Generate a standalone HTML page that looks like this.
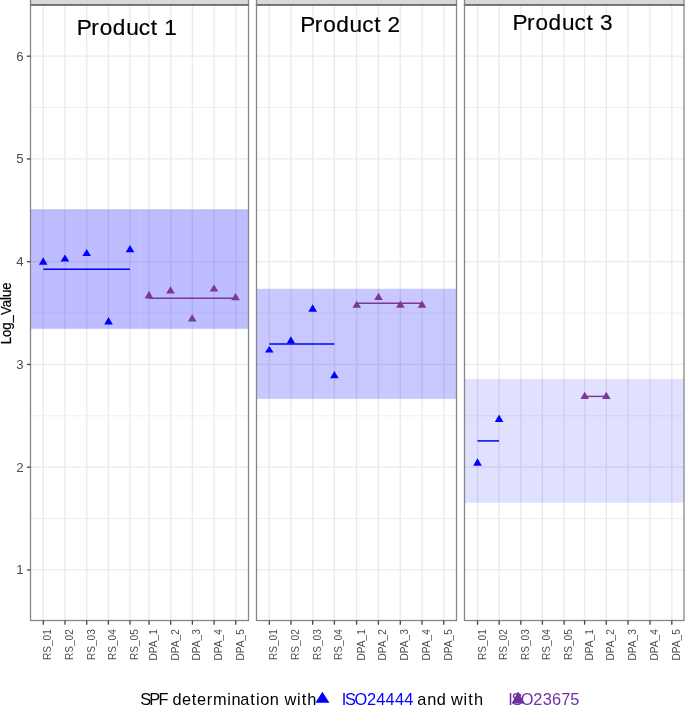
<!DOCTYPE html>
<html lang="en"><head><meta charset="utf-8"><title>SPF determination</title>
<style>html,body{margin:0;padding:0;background:#fff;overflow:hidden}svg{display:block}</style></head>
<body>
<svg width="685" height="705" viewBox="0 0 685 705" font-family="'Liberation Sans', Arial, sans-serif">
<rect width="685" height="705" fill="#fff"/>
<rect x="30.5" y="-2" width="218.0" height="6.9" fill="#d9d9d9"/>
<line x1="30.5" x2="248.5" y1="107.58" y2="107.58" stroke="#ebebeb" stroke-width="0.8"/>
<line x1="30.5" x2="248.5" y1="210.32" y2="210.32" stroke="#ebebeb" stroke-width="0.8"/>
<line x1="30.5" x2="248.5" y1="313.07" y2="313.07" stroke="#ebebeb" stroke-width="0.8"/>
<line x1="30.5" x2="248.5" y1="415.82" y2="415.82" stroke="#ebebeb" stroke-width="0.8"/>
<line x1="30.5" x2="248.5" y1="518.58" y2="518.58" stroke="#ebebeb" stroke-width="0.8"/>
<line x1="30.5" x2="248.5" y1="56.20" y2="56.20" stroke="#ebebeb" stroke-width="1.3"/>
<line x1="30.5" x2="248.5" y1="158.95" y2="158.95" stroke="#ebebeb" stroke-width="1.3"/>
<line x1="30.5" x2="248.5" y1="261.70" y2="261.70" stroke="#ebebeb" stroke-width="1.3"/>
<line x1="30.5" x2="248.5" y1="364.45" y2="364.45" stroke="#ebebeb" stroke-width="1.3"/>
<line x1="30.5" x2="248.5" y1="467.20" y2="467.20" stroke="#ebebeb" stroke-width="1.3"/>
<line x1="30.5" x2="248.5" y1="569.95" y2="569.95" stroke="#ebebeb" stroke-width="1.3"/>
<line x1="43.3" x2="43.3" y1="4.9" y2="620.5" stroke="#ebebeb" stroke-width="1.4"/>
<line x1="65.0" x2="65.0" y1="4.9" y2="620.5" stroke="#ebebeb" stroke-width="1.4"/>
<line x1="86.7" x2="86.7" y1="4.9" y2="620.5" stroke="#ebebeb" stroke-width="1.4"/>
<line x1="108.4" x2="108.4" y1="4.9" y2="620.5" stroke="#ebebeb" stroke-width="1.4"/>
<line x1="130.0" x2="130.0" y1="4.9" y2="620.5" stroke="#ebebeb" stroke-width="1.4"/>
<line x1="149.0" x2="149.0" y1="4.9" y2="620.5" stroke="#ebebeb" stroke-width="1.4"/>
<line x1="170.7" x2="170.7" y1="4.9" y2="620.5" stroke="#ebebeb" stroke-width="1.4"/>
<line x1="192.4" x2="192.4" y1="4.9" y2="620.5" stroke="#ebebeb" stroke-width="1.4"/>
<line x1="214.1" x2="214.1" y1="4.9" y2="620.5" stroke="#ebebeb" stroke-width="1.4"/>
<line x1="235.8" x2="235.8" y1="4.9" y2="620.5" stroke="#ebebeb" stroke-width="1.4"/>
<rect x="30.5" y="209.4" width="218.0" height="119.40" fill="#0000ff" fill-opacity="0.26"/>
<line x1="139.7" x2="139.7" y1="209.4" y2="328.8" stroke="#fff" stroke-opacity="0.12" stroke-width="1"/>
<line x1="43.3" x2="130.0" y1="269.3" y2="269.3" stroke="#0000ff" stroke-width="1.5"/>
<line x1="149.0" x2="235.6" y1="298.3" y2="298.3" stroke="#7c3897" stroke-width="1.4"/>
<polygon points="43.2,257.3 47.5,264.8 38.900000000000006,264.8" fill="#0000ff"/>
<polygon points="64.9,254.5 69.2,261.6 60.60000000000001,261.6" fill="#0000ff"/>
<polygon points="86.7,248.9 91.0,256.1 82.4,256.1" fill="#0000ff"/>
<polygon points="108.5,317.0 112.8,324.4 104.2,324.4" fill="#0000ff"/>
<polygon points="130.0,245.1 134.3,252.3 125.7,252.3" fill="#0000ff"/>
<polygon points="149.0,290.7 153.3,298.5 144.7,298.5" fill="#7c3897"/>
<polygon points="170.5,286.3 174.8,293.5 166.2,293.5" fill="#7c3897"/>
<polygon points="192.2,314.2 196.5,321.6 187.89999999999998,321.6" fill="#7c3897"/>
<polygon points="214.0,284.6 218.3,291.6 209.7,291.6" fill="#7c3897"/>
<polygon points="235.6,292.90000000000003 239.9,300.2 231.29999999999998,300.2" fill="#7c3897"/>
<rect x="30.5" y="4.9" width="218.0" height="615.6" fill="none" stroke="#878787" stroke-width="1.3"/>
<line x1="29.9" x2="249.1" y1="4.9" y2="4.9" stroke="#6c6c6c" stroke-width="1.9"/>
<line x1="30.5" x2="30.5" y1="-1" y2="4.9" stroke="#878787" stroke-width="1.3"/>
<line x1="248.5" x2="248.5" y1="-1" y2="4.9" stroke="#878787" stroke-width="1.3"/>
<line x1="43.3" x2="43.3" y1="620.5" y2="624.7" stroke="#444" stroke-width="1.3"/>
<text transform="translate(51.3,629.2) scale(1.12,1) rotate(-90)" text-anchor="end" font-size="10.1" fill="#4d4d4d">RS_01</text>
<line x1="65.0" x2="65.0" y1="620.5" y2="624.7" stroke="#444" stroke-width="1.3"/>
<text transform="translate(73.0,629.2) scale(1.12,1) rotate(-90)" text-anchor="end" font-size="10.1" fill="#4d4d4d">RS_02</text>
<line x1="86.7" x2="86.7" y1="620.5" y2="624.7" stroke="#444" stroke-width="1.3"/>
<text transform="translate(94.7,629.2) scale(1.12,1) rotate(-90)" text-anchor="end" font-size="10.1" fill="#4d4d4d">RS_03</text>
<line x1="108.4" x2="108.4" y1="620.5" y2="624.7" stroke="#444" stroke-width="1.3"/>
<text transform="translate(116.4,629.2) scale(1.12,1) rotate(-90)" text-anchor="end" font-size="10.1" fill="#4d4d4d">RS_04</text>
<line x1="130.0" x2="130.0" y1="620.5" y2="624.7" stroke="#444" stroke-width="1.3"/>
<text transform="translate(138.0,629.2) scale(1.12,1) rotate(-90)" text-anchor="end" font-size="10.1" fill="#4d4d4d">RS_05</text>
<line x1="149.0" x2="149.0" y1="620.5" y2="624.7" stroke="#444" stroke-width="1.3"/>
<text transform="translate(157.0,629.2) scale(1.12,1) rotate(-90)" text-anchor="end" font-size="10.1" fill="#4d4d4d">DPA_1</text>
<line x1="170.7" x2="170.7" y1="620.5" y2="624.7" stroke="#444" stroke-width="1.3"/>
<text transform="translate(178.7,629.2) scale(1.12,1) rotate(-90)" text-anchor="end" font-size="10.1" fill="#4d4d4d">DPA_2</text>
<line x1="192.4" x2="192.4" y1="620.5" y2="624.7" stroke="#444" stroke-width="1.3"/>
<text transform="translate(200.4,629.2) scale(1.12,1) rotate(-90)" text-anchor="end" font-size="10.1" fill="#4d4d4d">DPA_3</text>
<line x1="214.1" x2="214.1" y1="620.5" y2="624.7" stroke="#444" stroke-width="1.3"/>
<text transform="translate(222.1,629.2) scale(1.12,1) rotate(-90)" text-anchor="end" font-size="10.1" fill="#4d4d4d">DPA_4</text>
<line x1="235.8" x2="235.8" y1="620.5" y2="624.7" stroke="#444" stroke-width="1.3"/>
<text transform="translate(243.8,629.2) scale(1.12,1) rotate(-90)" text-anchor="end" font-size="10.1" fill="#4d4d4d">DPA_5</text>
<text transform="scale(1.05,1)" x="73.10 86.90 95.01 107.48 120.18 132.23 143.62 150.45 156.46" y="34.8" font-size="21.5" stroke="#000" stroke-width="0.2" fill="#000">Product 1</text>
<rect x="256.5" y="-2" width="200.0" height="6.9" fill="#d9d9d9"/>
<line x1="256.5" x2="456.5" y1="107.58" y2="107.58" stroke="#ebebeb" stroke-width="0.8"/>
<line x1="256.5" x2="456.5" y1="210.32" y2="210.32" stroke="#ebebeb" stroke-width="0.8"/>
<line x1="256.5" x2="456.5" y1="313.07" y2="313.07" stroke="#ebebeb" stroke-width="0.8"/>
<line x1="256.5" x2="456.5" y1="415.82" y2="415.82" stroke="#ebebeb" stroke-width="0.8"/>
<line x1="256.5" x2="456.5" y1="518.58" y2="518.58" stroke="#ebebeb" stroke-width="0.8"/>
<line x1="256.5" x2="456.5" y1="56.20" y2="56.20" stroke="#ebebeb" stroke-width="1.3"/>
<line x1="256.5" x2="456.5" y1="158.95" y2="158.95" stroke="#ebebeb" stroke-width="1.3"/>
<line x1="256.5" x2="456.5" y1="261.70" y2="261.70" stroke="#ebebeb" stroke-width="1.3"/>
<line x1="256.5" x2="456.5" y1="364.45" y2="364.45" stroke="#ebebeb" stroke-width="1.3"/>
<line x1="256.5" x2="456.5" y1="467.20" y2="467.20" stroke="#ebebeb" stroke-width="1.3"/>
<line x1="256.5" x2="456.5" y1="569.95" y2="569.95" stroke="#ebebeb" stroke-width="1.3"/>
<line x1="269.3" x2="269.3" y1="4.9" y2="620.5" stroke="#ebebeb" stroke-width="1.4"/>
<line x1="291.0" x2="291.0" y1="4.9" y2="620.5" stroke="#ebebeb" stroke-width="1.4"/>
<line x1="312.7" x2="312.7" y1="4.9" y2="620.5" stroke="#ebebeb" stroke-width="1.4"/>
<line x1="334.4" x2="334.4" y1="4.9" y2="620.5" stroke="#ebebeb" stroke-width="1.4"/>
<line x1="356.6" x2="356.6" y1="4.9" y2="620.5" stroke="#ebebeb" stroke-width="1.4"/>
<line x1="378.4" x2="378.4" y1="4.9" y2="620.5" stroke="#ebebeb" stroke-width="1.4"/>
<line x1="400.3" x2="400.3" y1="4.9" y2="620.5" stroke="#ebebeb" stroke-width="1.4"/>
<line x1="422.0" x2="422.0" y1="4.9" y2="620.5" stroke="#ebebeb" stroke-width="1.4"/>
<line x1="443.8" x2="443.8" y1="4.9" y2="620.5" stroke="#ebebeb" stroke-width="1.4"/>
<rect x="256.5" y="288.8" width="200.0" height="110.10" fill="#0000ff" fill-opacity="0.215"/>
<line x1="269.3" x2="334.4" y1="344.1" y2="344.1" stroke="#0000ff" stroke-width="1.5"/>
<line x1="356.7" x2="422.0" y1="303.3" y2="303.3" stroke="#7c3897" stroke-width="1.4"/>
<polygon points="269.3,346.0 273.6,352.6 265.0,352.6" fill="#0000ff"/>
<polygon points="290.9,336.2 295.2,343.6 286.59999999999997,343.6" fill="#0000ff"/>
<polygon points="312.7,304.3 317.0,311.7 308.4,311.7" fill="#0000ff"/>
<polygon points="334.4,371.0 338.7,378.2 330.09999999999997,378.2" fill="#0000ff"/>
<polygon points="356.7,300.7 361.0,307.7 352.4,307.7" fill="#7c3897"/>
<polygon points="378.5,292.7 382.8,299.9 374.2,299.9" fill="#7c3897"/>
<polygon points="400.4,300.5 404.7,307.7 396.09999999999997,307.7" fill="#7c3897"/>
<polygon points="422.0,300.5 426.3,307.7 417.7,307.7" fill="#7c3897"/>
<rect x="256.5" y="4.9" width="200.0" height="615.6" fill="none" stroke="#878787" stroke-width="1.3"/>
<line x1="255.9" x2="457.1" y1="4.9" y2="4.9" stroke="#6c6c6c" stroke-width="1.9"/>
<line x1="256.5" x2="256.5" y1="-1" y2="4.9" stroke="#878787" stroke-width="1.3"/>
<line x1="456.5" x2="456.5" y1="-1" y2="4.9" stroke="#878787" stroke-width="1.3"/>
<line x1="269.3" x2="269.3" y1="620.5" y2="624.7" stroke="#444" stroke-width="1.3"/>
<text transform="translate(277.3,629.2) scale(1.12,1) rotate(-90)" text-anchor="end" font-size="10.1" fill="#4d4d4d">RS_01</text>
<line x1="291.0" x2="291.0" y1="620.5" y2="624.7" stroke="#444" stroke-width="1.3"/>
<text transform="translate(299.0,629.2) scale(1.12,1) rotate(-90)" text-anchor="end" font-size="10.1" fill="#4d4d4d">RS_02</text>
<line x1="312.7" x2="312.7" y1="620.5" y2="624.7" stroke="#444" stroke-width="1.3"/>
<text transform="translate(320.7,629.2) scale(1.12,1) rotate(-90)" text-anchor="end" font-size="10.1" fill="#4d4d4d">RS_03</text>
<line x1="334.4" x2="334.4" y1="620.5" y2="624.7" stroke="#444" stroke-width="1.3"/>
<text transform="translate(342.4,629.2) scale(1.12,1) rotate(-90)" text-anchor="end" font-size="10.1" fill="#4d4d4d">RS_04</text>
<line x1="356.6" x2="356.6" y1="620.5" y2="624.7" stroke="#444" stroke-width="1.3"/>
<text transform="translate(364.6,629.2) scale(1.12,1) rotate(-90)" text-anchor="end" font-size="10.1" fill="#4d4d4d">DPA_1</text>
<line x1="378.4" x2="378.4" y1="620.5" y2="624.7" stroke="#444" stroke-width="1.3"/>
<text transform="translate(386.4,629.2) scale(1.12,1) rotate(-90)" text-anchor="end" font-size="10.1" fill="#4d4d4d">DPA_2</text>
<line x1="400.3" x2="400.3" y1="620.5" y2="624.7" stroke="#444" stroke-width="1.3"/>
<text transform="translate(408.3,629.2) scale(1.12,1) rotate(-90)" text-anchor="end" font-size="10.1" fill="#4d4d4d">DPA_3</text>
<line x1="422.0" x2="422.0" y1="620.5" y2="624.7" stroke="#444" stroke-width="1.3"/>
<text transform="translate(430.0,629.2) scale(1.12,1) rotate(-90)" text-anchor="end" font-size="10.1" fill="#4d4d4d">DPA_4</text>
<line x1="443.8" x2="443.8" y1="620.5" y2="624.7" stroke="#444" stroke-width="1.3"/>
<text transform="translate(451.8,629.2) scale(1.12,1) rotate(-90)" text-anchor="end" font-size="10.1" fill="#4d4d4d">DPA_5</text>
<text transform="scale(1.05,1)" x="285.95 299.73 307.83 320.27 332.95 344.99 356.36 363.18 369.00" y="31.9" font-size="21.5" stroke="#000" stroke-width="0.2" fill="#000">Product 2</text>
<rect x="464.5" y="-2" width="219.5" height="6.9" fill="#d9d9d9"/>
<line x1="464.5" x2="684.0" y1="107.58" y2="107.58" stroke="#ebebeb" stroke-width="0.8"/>
<line x1="464.5" x2="684.0" y1="210.32" y2="210.32" stroke="#ebebeb" stroke-width="0.8"/>
<line x1="464.5" x2="684.0" y1="313.07" y2="313.07" stroke="#ebebeb" stroke-width="0.8"/>
<line x1="464.5" x2="684.0" y1="415.82" y2="415.82" stroke="#ebebeb" stroke-width="0.8"/>
<line x1="464.5" x2="684.0" y1="518.58" y2="518.58" stroke="#ebebeb" stroke-width="0.8"/>
<line x1="464.5" x2="684.0" y1="56.20" y2="56.20" stroke="#ebebeb" stroke-width="1.3"/>
<line x1="464.5" x2="684.0" y1="158.95" y2="158.95" stroke="#ebebeb" stroke-width="1.3"/>
<line x1="464.5" x2="684.0" y1="261.70" y2="261.70" stroke="#ebebeb" stroke-width="1.3"/>
<line x1="464.5" x2="684.0" y1="364.45" y2="364.45" stroke="#ebebeb" stroke-width="1.3"/>
<line x1="464.5" x2="684.0" y1="467.20" y2="467.20" stroke="#ebebeb" stroke-width="1.3"/>
<line x1="464.5" x2="684.0" y1="569.95" y2="569.95" stroke="#ebebeb" stroke-width="1.3"/>
<line x1="477.5" x2="477.5" y1="4.9" y2="620.5" stroke="#ebebeb" stroke-width="1.4"/>
<line x1="499.1" x2="499.1" y1="4.9" y2="620.5" stroke="#ebebeb" stroke-width="1.4"/>
<line x1="520.8" x2="520.8" y1="4.9" y2="620.5" stroke="#ebebeb" stroke-width="1.4"/>
<line x1="542.4" x2="542.4" y1="4.9" y2="620.5" stroke="#ebebeb" stroke-width="1.4"/>
<line x1="564.1" x2="564.1" y1="4.9" y2="620.5" stroke="#ebebeb" stroke-width="1.4"/>
<line x1="584.6" x2="584.6" y1="4.9" y2="620.5" stroke="#ebebeb" stroke-width="1.4"/>
<line x1="606.3" x2="606.3" y1="4.9" y2="620.5" stroke="#ebebeb" stroke-width="1.4"/>
<line x1="628.0" x2="628.0" y1="4.9" y2="620.5" stroke="#ebebeb" stroke-width="1.4"/>
<line x1="650.0" x2="650.0" y1="4.9" y2="620.5" stroke="#ebebeb" stroke-width="1.4"/>
<line x1="671.8" x2="671.8" y1="4.9" y2="620.5" stroke="#ebebeb" stroke-width="1.4"/>
<rect x="464.5" y="378.9" width="219.5" height="123.90" fill="#0000ff" fill-opacity="0.12"/>
<line x1="477.5" x2="499.1" y1="440.9" y2="440.9" stroke="#0000ff" stroke-width="1.5"/>
<line x1="584.7" x2="606.3" y1="396.4" y2="396.4" stroke="#7c3897" stroke-width="1.4"/>
<polygon points="477.5,458.2 481.8,465.8 473.2,465.8" fill="#0000ff"/>
<polygon points="499.1,414.5 503.40000000000003,422.1 494.8,422.1" fill="#0000ff"/>
<polygon points="584.7,391.7 589.0,399.1 580.4000000000001,399.1" fill="#7c3897"/>
<polygon points="606.3,391.7 610.5999999999999,399.1 602.0,399.1" fill="#7c3897"/>
<rect x="464.5" y="4.9" width="219.5" height="615.6" fill="none" stroke="#878787" stroke-width="1.3"/>
<line x1="463.9" x2="684.6" y1="4.9" y2="4.9" stroke="#6c6c6c" stroke-width="1.9"/>
<line x1="464.5" x2="464.5" y1="-1" y2="4.9" stroke="#878787" stroke-width="1.3"/>
<line x1="684.0" x2="684.0" y1="-1" y2="4.9" stroke="#878787" stroke-width="1.3"/>
<line x1="477.5" x2="477.5" y1="620.5" y2="624.7" stroke="#444" stroke-width="1.3"/>
<text transform="translate(485.5,629.2) scale(1.12,1) rotate(-90)" text-anchor="end" font-size="10.1" fill="#4d4d4d">RS_01</text>
<line x1="499.1" x2="499.1" y1="620.5" y2="624.7" stroke="#444" stroke-width="1.3"/>
<text transform="translate(507.1,629.2) scale(1.12,1) rotate(-90)" text-anchor="end" font-size="10.1" fill="#4d4d4d">RS_02</text>
<line x1="520.8" x2="520.8" y1="620.5" y2="624.7" stroke="#444" stroke-width="1.3"/>
<text transform="translate(528.8,629.2) scale(1.12,1) rotate(-90)" text-anchor="end" font-size="10.1" fill="#4d4d4d">RS_03</text>
<line x1="542.4" x2="542.4" y1="620.5" y2="624.7" stroke="#444" stroke-width="1.3"/>
<text transform="translate(550.4,629.2) scale(1.12,1) rotate(-90)" text-anchor="end" font-size="10.1" fill="#4d4d4d">RS_04</text>
<line x1="564.1" x2="564.1" y1="620.5" y2="624.7" stroke="#444" stroke-width="1.3"/>
<text transform="translate(572.1,629.2) scale(1.12,1) rotate(-90)" text-anchor="end" font-size="10.1" fill="#4d4d4d">RS_05</text>
<line x1="584.6" x2="584.6" y1="620.5" y2="624.7" stroke="#444" stroke-width="1.3"/>
<text transform="translate(592.6,629.2) scale(1.12,1) rotate(-90)" text-anchor="end" font-size="10.1" fill="#4d4d4d">DPA_1</text>
<line x1="606.3" x2="606.3" y1="620.5" y2="624.7" stroke="#444" stroke-width="1.3"/>
<text transform="translate(614.3,629.2) scale(1.12,1) rotate(-90)" text-anchor="end" font-size="10.1" fill="#4d4d4d">DPA_2</text>
<line x1="628.0" x2="628.0" y1="620.5" y2="624.7" stroke="#444" stroke-width="1.3"/>
<text transform="translate(636.0,629.2) scale(1.12,1) rotate(-90)" text-anchor="end" font-size="10.1" fill="#4d4d4d">DPA_3</text>
<line x1="650.0" x2="650.0" y1="620.5" y2="624.7" stroke="#444" stroke-width="1.3"/>
<text transform="translate(658.0,629.2) scale(1.12,1) rotate(-90)" text-anchor="end" font-size="10.1" fill="#4d4d4d">DPA_4</text>
<line x1="671.8" x2="671.8" y1="620.5" y2="624.7" stroke="#444" stroke-width="1.3"/>
<text transform="translate(679.8,629.2) scale(1.12,1) rotate(-90)" text-anchor="end" font-size="10.1" fill="#4d4d4d">DPA_5</text>
<text transform="scale(1.05,1)" x="488.05 501.85 509.97 522.44 535.15 547.20 558.60 565.43 571.40" y="29.9" font-size="21.5" stroke="#000" stroke-width="0.2" fill="#000">Product 3</text>
<line x1="26.9" x2="30.5" y1="56.20" y2="56.20" stroke="#444" stroke-width="1.3"/>
<text transform="translate(23.7,60.60) scale(1.1,1)" text-anchor="end" font-size="12" fill="#4d4d4d">6</text>
<line x1="26.9" x2="30.5" y1="158.95" y2="158.95" stroke="#444" stroke-width="1.3"/>
<text transform="translate(23.7,163.35) scale(1.1,1)" text-anchor="end" font-size="12" fill="#4d4d4d">5</text>
<line x1="26.9" x2="30.5" y1="261.70" y2="261.70" stroke="#444" stroke-width="1.3"/>
<text transform="translate(23.7,266.10) scale(1.1,1)" text-anchor="end" font-size="12" fill="#4d4d4d">4</text>
<line x1="26.9" x2="30.5" y1="364.45" y2="364.45" stroke="#444" stroke-width="1.3"/>
<text transform="translate(23.7,368.85) scale(1.1,1)" text-anchor="end" font-size="12" fill="#4d4d4d">3</text>
<line x1="26.9" x2="30.5" y1="467.20" y2="467.20" stroke="#444" stroke-width="1.3"/>
<text transform="translate(23.7,471.60) scale(1.1,1)" text-anchor="end" font-size="12" fill="#4d4d4d">2</text>
<line x1="26.9" x2="30.5" y1="569.95" y2="569.95" stroke="#444" stroke-width="1.3"/>
<text transform="translate(23.7,574.35) scale(1.1,1)" text-anchor="end" font-size="12" fill="#4d4d4d">1</text>
<text transform="translate(10.7,313.4) scale(1.05,1) rotate(-90)" text-anchor="middle" font-size="13.15" fill="#000" stroke="#000" stroke-width="0.2">Log_Value</text>
<text transform="scale(1.03,1)" x="136.07 144.89 153.84" y="704.9" font-size="15.9" fill="#000">SPF</text>
<text transform="scale(1.03,1)" x="167.43 176.63 186.12 191.37 200.61 206.87 220.75 224.84 233.16 243.03 248.53 252.59 261.96" y="704.9" font-size="15.9" fill="#000">determination</text>
<text transform="scale(1.03,1)" x="276.10 288.41 292.88 298.37" y="704.9" font-size="15.9" fill="#000">with</text>
<text transform="scale(1.03,1)" x="331.79 334.95 344.12 356.29 365.34 374.36 383.38 392.39" y="704.9" font-size="15.9" fill="#0000ff">ISO24444</text>
<text transform="scale(1.03,1)" x="405.22 414.80 424.04" y="704.9" font-size="15.9" fill="#000">and</text>
<text transform="scale(1.03,1)" x="437.77 450.10 454.60 460.11" y="704.9" font-size="15.9" fill="#000">with</text>
<text transform="scale(1.03,1)" x="493.34 496.49 505.64 517.80 526.90 535.81 544.91 553.67" y="704.9" font-size="15.9" fill="#7030a0">ISO23675</text>
<polygon points="322.4,691.8 329.4,702.8 315.4,702.8" fill="#0000ff"/>
<polygon points="518.1,691.4 524.6,703.6 511.6,703.6" fill="#7030a0"/>
</svg>
</body></html>
